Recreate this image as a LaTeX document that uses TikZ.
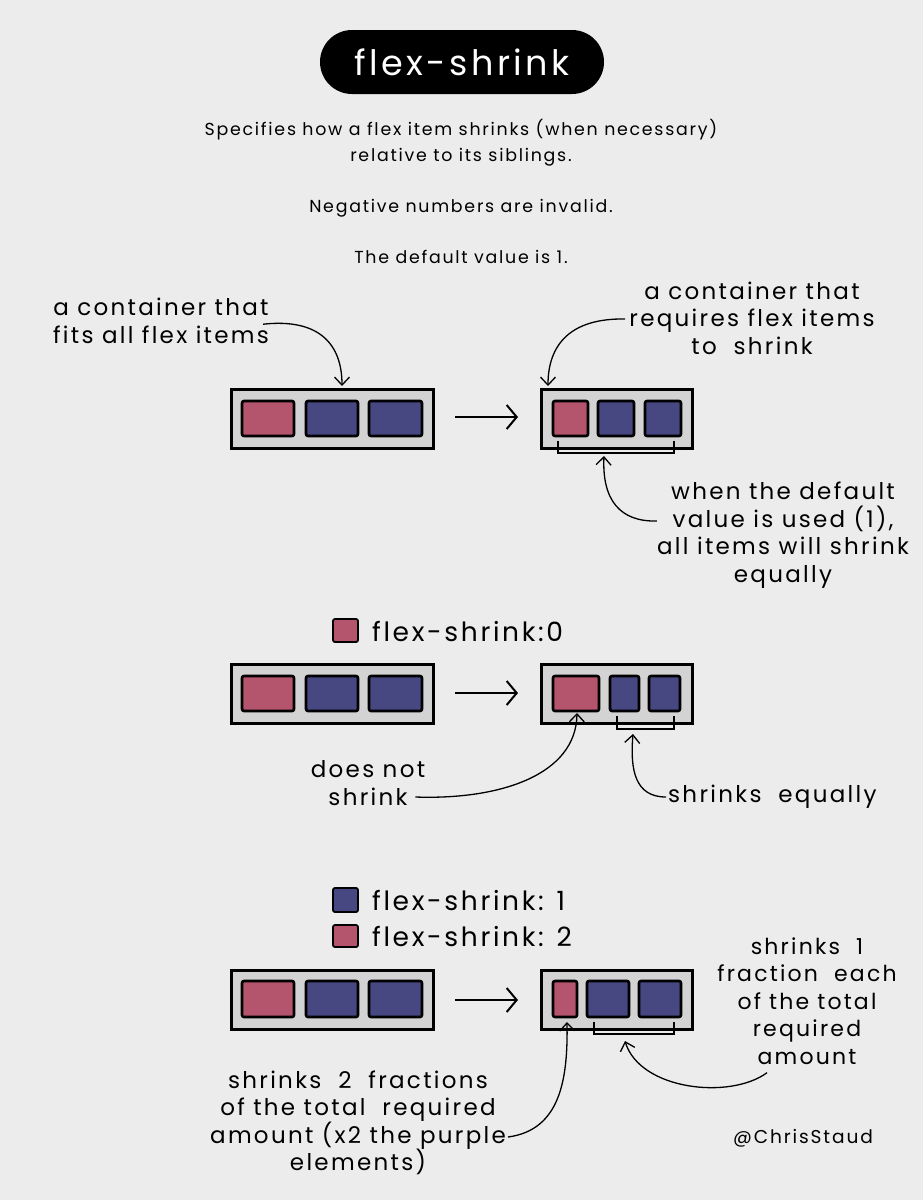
\documentclass[tikz,border=0pt]{standalone}
\usepackage{fontspec}
\setmainfont[LetterSpace=10]{Poppins}
\usetikzlibrary{arrows.meta}
\definecolor{paper}{HTML}{ECECEC}
\definecolor{boxgray}{HTML}{D3D3D3}
\definecolor{itemred}{HTML}{B4546D}
\definecolor{itemblue}{HTML}{474781}
\tikzset{
  container/.style={draw=black,line width=3pt,fill=boxgray},
  redbox/.style={draw=black,line width=2.6pt,fill=itemred,rounded corners=2pt},
  bluebox/.style={draw=black,line width=2.6pt,fill=itemblue,rounded corners=2pt},
  note/.style={align=center,inner sep=0pt,font=\fontsize{23}{27.5}\selectfont},
  descr/.style={align=center,inner sep=0pt,font=\fontsize{17.4}{26}\selectfont},
  legend/.style={anchor=west,inner sep=0pt,font=\fontsize{26.5}{30}\selectfont},
  pointer/.style={-{Straight Barb[length=8pt,width=15pt]},line width=1.3pt},
  bigarrow/.style={-{Straight Barb[length=10pt,width=24pt]},line width=2pt},
}
\begin{document}
\begin{tikzpicture}[x=1pt,y=-1pt]
\fill[paper] (0,0) rectangle (923,1200);

% title and description
\node[fill=black,text=white,rounded corners=32pt,minimum width=284pt,minimum height=64pt,
  font=\fontsize{35}{40}\selectfont] (title) at (462,62) {flex-shrink};
\node[descr] (desc) at (461,143) {Specifies how a flex item shrinks (when necessary)\\relative to its siblings.};
\node[descr] (negative) at (461,208) {Negative numbers are invalid.};
\node[descr] (default) at (461,257) {The default value is 1.};

% first row
\draw[container] (231,389) rectangle (433,448);
\draw[redbox] (242,401) rectangle (294,436);
\draw[bluebox] (306,401) rectangle (358,436);
\draw[bluebox] (369,401) rectangle (422,436);
\coordinate (go1) at (455,417);
\coordinate (to1) at (518,417);
\draw[bigarrow] (go1) -- (to1);
\draw[container] (541,389) rectangle (692,448);
\draw[redbox] (553,401) rectangle (588,436);
\draw[bluebox] (598,401) rectangle (634,436);
\draw[bluebox] (645,401) rectangle (681,436);
\draw[line width=1.3pt] (558,441) -- (558,453) -- (674,453) -- (674,441);

\node[note] (fits) at (161,321) {a container that\\fits all flex items};
\node[note] (requires) at (752,318) {a container that\\requires flex items\\to\ \ shrink};
\node[note] (whendefault) at (783,535) {when the default\\value is used (1),\\all items will shrink\\equally};
\coordinate (wide) at (342,386);
\coordinate (narrow) at (548,386);
\coordinate (all) at (604,456);
\draw[pointer] (fits.north east) ++(-6,26) .. controls (320,318) and (342,345) .. (wide);
\draw[pointer] (requires.west) ++(-4,1) .. controls (570,318) and (548,345) .. (narrow);
\draw[pointer] (whendefault.west) ++(0,-14) .. controls (620,522) and (602,500) .. (all);

% second row
\draw[redbox,line width=1.8pt] (333,619) rectangle (358,642);
\node[legend] (zero) at (372,631) {flex-shrink:0};
\draw[container] (231,664) rectangle (433,723);
\draw[redbox] (242,676) rectangle (294,711);
\draw[bluebox] (306,676) rectangle (358,711);
\draw[bluebox] (369,676) rectangle (422,711);
\coordinate (go2) at (455,693);
\coordinate (to2) at (518,693);
\draw[bigarrow] (go2) -- (to2);
\draw[container] (541,664) rectangle (692,723);
\draw[redbox] (553,676) rectangle (599,711);
\draw[bluebox] (610,676) rectangle (639,711);
\draw[bluebox] (649,676) rectangle (680,711);
\draw[line width=1.3pt] (617,716) -- (617,729) -- (674,729) -- (674,716);

\node[note] (notshrink) at (368,783) {does not\\shrink};
\node[note,anchor=west] (equally) at (668,797) {shrinks\ \ equally};
\coordinate (keep) at (577,713);
\coordinate (same) at (633,734);
\draw[pointer] (notshrink.east) ++(-10,14) .. controls (500,800) and (576,775) .. (keep);
\draw[pointer] (equally.west) ++(-2,0) .. controls (635,797) and (630,770) .. (same);

% third row
\draw[bluebox,line width=1.8pt] (333,888) rectangle (358,912);
\node[legend] (one) at (372,900) {flex-shrink: 1};
\draw[redbox,line width=1.8pt] (333,925) rectangle (358,947);
\node[legend] (two) at (372,936) {flex-shrink: 2};
\draw[container] (231,970) rectangle (433,1029);
\draw[redbox] (242,981) rectangle (294,1017);
\draw[bluebox] (306,981) rectangle (358,1017);
\draw[bluebox] (369,981) rectangle (422,1017);
\coordinate (go3) at (455,1000);
\coordinate (to3) at (518,1000);
\draw[bigarrow] (go3) -- (to3);
\draw[container] (541,970) rectangle (692,1029);
\draw[redbox] (553,981) rectangle (577,1017);
\draw[bluebox] (587,981) rectangle (629,1017);
\draw[bluebox] (639,981) rectangle (681,1017);
\draw[line width=1.3pt] (594,1022) -- (594,1034) -- (674,1034) -- (674,1022);

\node[note] (twofrac) at (358,1123) {shrinks\ \ 2\ \ fractions\\of the total\ \ required\\amount (x2 the purple\\elements)};
\node[note,font=\fontsize{22}{27.5}\selectfont] (onefrac) at (807,1001) {shrinks\ \ 1\\fraction\ \ each\\of the total\\required\\amount};
\coordinate (double) at (567,1022);
\coordinate (single) at (625,1041);
\draw[pointer] (twofrac.east) ++(2,14) .. controls (560,1130) and (568,1080) .. (double);
\draw[pointer] (onefrac.south) ++(-40,8) .. controls (730,1100) and (640,1090) .. (single);

\node[font=\fontsize{18.6}{24}\selectfont,inner sep=0pt] (handle) at (803,1138) {@ChrisStaud};
\end{tikzpicture}
\end{document}
